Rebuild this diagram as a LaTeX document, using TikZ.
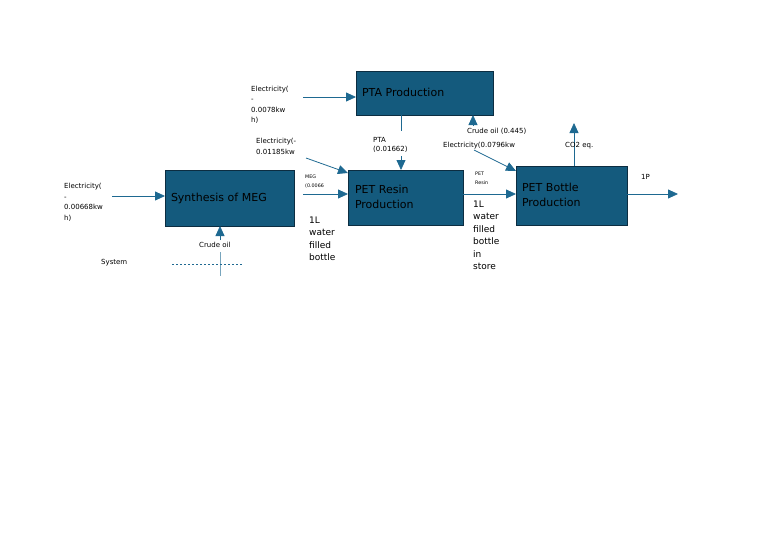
\documentclass[tikz,border=0pt]{standalone}
\usepackage{fontspec}
\setmainfont{DejaVu Sans}
\usetikzlibrary{arrows.meta}
\definecolor{boxfill}{RGB}{20,90,125}
\definecolor{boxline}{RGB}{12,45,65}
\definecolor{arr}{RGB}{30,105,145}
\begin{document}
\begin{tikzpicture}[x=1pt,y=-1pt,
  box/.style={draw=boxline, fill=boxfill, line width=0.7pt, anchor=north west, outer sep=0pt,
    inner xsep=6pt, align=left, font=\fontsize{11}{15}\selectfont},
  flow/.style={draw=arr, line width=0.8pt, -{Triangle[length=10pt,width=9pt]}},
  plain/.style={draw=arr, line width=0.6pt},
  lab/.style={font=\fontsize{7}{10.5}\selectfont, align=left, anchor=west, inner sep=0pt},
  tiny/.style={font=\fontsize{4.8}{9}\selectfont, align=left, anchor=west, inner sep=0pt},
  big/.style={font=\fontsize{9}{12.5}\selectfont, align=left, anchor=west, inner sep=0pt}]
\useasboundingbox (0,0) rectangle (768,543);

% boxes
\node[box, minimum width=137pt, minimum height=44pt, text width=125pt] (pta) at (356,71) {\strut PTA Production};
\node[box, minimum width=129pt, minimum height=56pt, text width=117pt] (meg) at (165,170) {\strut Synthesis of MEG};
\node[box, minimum width=115pt, minimum height=55pt, text width=101pt, inner xsep=7pt] (resin) at (348,170) {\strut PET Resin\\Production\strut};
\node[box, minimum width=111pt, minimum height=59pt, text width=99pt] (bottle) at (516,166) {\strut PET Bottle\\Production\strut};

% free ends
\coordinate (e1) at (303,97);
\coordinate (e2) at (112,196);
\coordinate (e3) at (306,158);
\coordinate (e4) at (474,150);
\coordinate (ptaend) at (401,131);
\coordinate (ptas) at (401,156);
\coordinate (co) at (473,126);
\coordinate (m1) at (303,194);
\coordinate (r1) at (463,194);
\coordinate (c2) at (574,123);
\coordinate (p1) at (678,194);
\coordinate (c1) at (220,240);
\coordinate (v1) at (220,252);
\coordinate (v2) at (220,276);
\coordinate (d1) at (172,264);
\coordinate (d2) at (243,264);

% connectors
\draw[flow] (e1) -- (e1 -| pta.west);
\draw[flow] (e2) -- (e2 -| meg.west);
\draw[flow] (e3) -- ([yshift=-3pt]resin.north west);
\draw[flow] (e4) -- ([yshift=-5pt]bottle.north west);
\draw[plain] (ptaend |- pta.south) -- (ptaend);
\draw[flow] (ptas) -- (ptas |- resin.north);
\draw[flow] (co) -- (co |- pta.south);
\draw[flow] (m1) -- (m1 -| resin.west);
\draw[flow] (r1 -| resin.east) -- (r1 -| bottle.west);
\draw[flow] (c2 |- bottle.north) -- (c2);
\draw[flow] (p1 -| bottle.east) -- (p1);
\draw[flow] (c1) -- (c1 |- meg.south);
\draw[draw=arr!60, line width=0.5pt] (v1) -- (v2);
\draw[draw=arr, line width=0.7pt, dash pattern=on 2pt off 2pt] (d1) -- (d2);

% labels
\node[lab] (l1) at (251,105) {Electricity(\\-\\0.0078kw\\h)};
\node[lab] (l2) at (256,146.5) {Electricity(-\\0.01185kw};
\node[lab] (l3) at (64,202.5) {Electricity(\\-\\0.00668kw\\h)};
\node[lab, font=\fontsize{7}{9.5}\selectfont] (l4) at (373,145) {PTA\\(0.01662)};
\node[lab] (l5) at (467,131) {Crude oil (0.445)};
\node[lab] (l6) at (443,146) {Electricity(0.0796kw};
\node[lab] (l7) at (565,146) {CO2 eq.};
\node[lab] (l8) at (641,177) {1P};
\node[tiny] (l9) at (305,181.5) {MEG\\(0.0066};
\node[tiny] (l10) at (475,178.5) {PET\\Resin};
\node[big] (l11) at (309,239) {1L\\water\\filled\\bottle};
\node[big] (l12) at (473,235.5) {1L\\water\\filled\\bottle\\in\\store};
\node[lab] (l13) at (101,263) {System};
\node[lab] (l14) at (199,245) {Crude oil};
\end{tikzpicture}
\end{document}
